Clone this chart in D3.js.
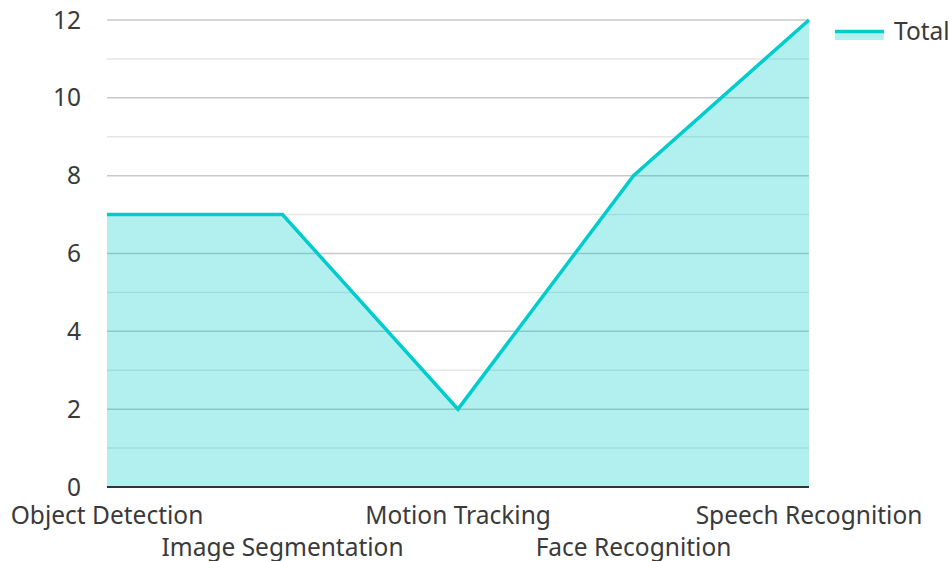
<!DOCTYPE html>
<html>
<head>
<meta charset="utf-8">
<script src="https://cdn.jsdelivr.net/npm/d3@7"></script>
<style>
  body { margin: 0; background: #fff; }
  text { font-family: "Noto Sans", sans-serif; fill: #3a3a3a; }
</style>
</head>
<body>
<svg id="chart" width="950" height="561"></svg>
<script>
// chart data
var categories = ["Object Detection", "Image Segmentation", "Motion Tracking", "Face Recognition", "Speech Recognition"];
var totals = [7, 7, 2, 8, 12];
var yTicks = [0, 2, 4, 6, 8, 10, 12];
var minorTicks = [1, 3, 5, 7, 9, 11];

var svg = d3.select("#chart");
var plotLeft = 107, plotRight = 809, plotTop = 20, plotBottom = 487;

var x = d3.scalePoint().domain(categories).range([plotLeft, plotRight]);
var y = d3.scaleLinear().domain([0, 12]).range([plotBottom, plotTop]);

// grid lines
svg.append("g").selectAll("line").data(minorTicks).enter().append("line")
  .attr("x1", plotLeft).attr("x2", plotRight)
  .attr("y1", function(d){ return y(d); }).attr("y2", function(d){ return y(d); })
  .attr("stroke", "#e6e6e6").attr("stroke-width", 1.5);
svg.append("g").selectAll("line").data(yTicks.slice(1)).enter().append("line")
  .attr("x1", plotLeft).attr("x2", plotRight)
  .attr("y1", function(d){ return y(d); }).attr("y2", function(d){ return y(d); })
  .attr("stroke", "#c8c8c8").attr("stroke-width", 1.5);

var data = categories.map(function(c, i){ return {c: c, v: totals[i]}; });

var area = d3.area()
  .x(function(d){ return x(d.c); })
  .y0(y(0))
  .y1(function(d){ return y(d.v); });
var line = d3.line()
  .x(function(d){ return x(d.c); })
  .y(function(d){ return y(d.v); });

svg.append("path").datum(data).attr("d", area)
  .attr("fill", "rgba(0,204,204,0.3)");
svg.append("path").datum(data).attr("d", line)
  .attr("fill", "none").attr("stroke", "#00cccc").attr("stroke-width", 3.5)
  .attr("stroke-linejoin", "miter");

// bottom axis line
svg.append("line").attr("x1", plotLeft).attr("x2", plotRight)
  .attr("y1", y(0)).attr("y2", y(0))
  .attr("stroke", "#333").attr("stroke-width", 2);

// y labels
svg.append("g").selectAll("text").data(yTicks).enter().append("text")
  .attr("x", 81).attr("y", function(d){ return y(d); })
  .attr("dy", "0.35em").attr("text-anchor", "end")
  .attr("font-size", 24.5)
  .text(function(d){ return d; });

// x labels, staggered
svg.append("g").selectAll("text").data(categories).enter().append("text")
  .attr("x", function(d){ return x(d); })
  .attr("y", function(d, i){ return i % 2 === 0 ? 524 : 556; })
  .attr("text-anchor", "middle")
  .attr("font-size", 24.5)
  .text(function(d){ return d; });

// legend
var lg = svg.append("g").attr("transform", "translate(835,30)");
lg.append("rect").attr("x", 0).attr("y", 0).attr("width", 49).attr("height", 10)
  .attr("fill", "rgba(0,204,204,0.3)");
lg.append("line").attr("x1", 0).attr("x2", 49).attr("y1", 1.5).attr("y2", 1.5)
  .attr("stroke", "#00cccc").attr("stroke-width", 3.5);
lg.append("text").attr("x", 59).attr("y", 1).attr("dy", "0.35em")
  .attr("font-size", 24.5).text("Total");
</script>
</body>
</html>
